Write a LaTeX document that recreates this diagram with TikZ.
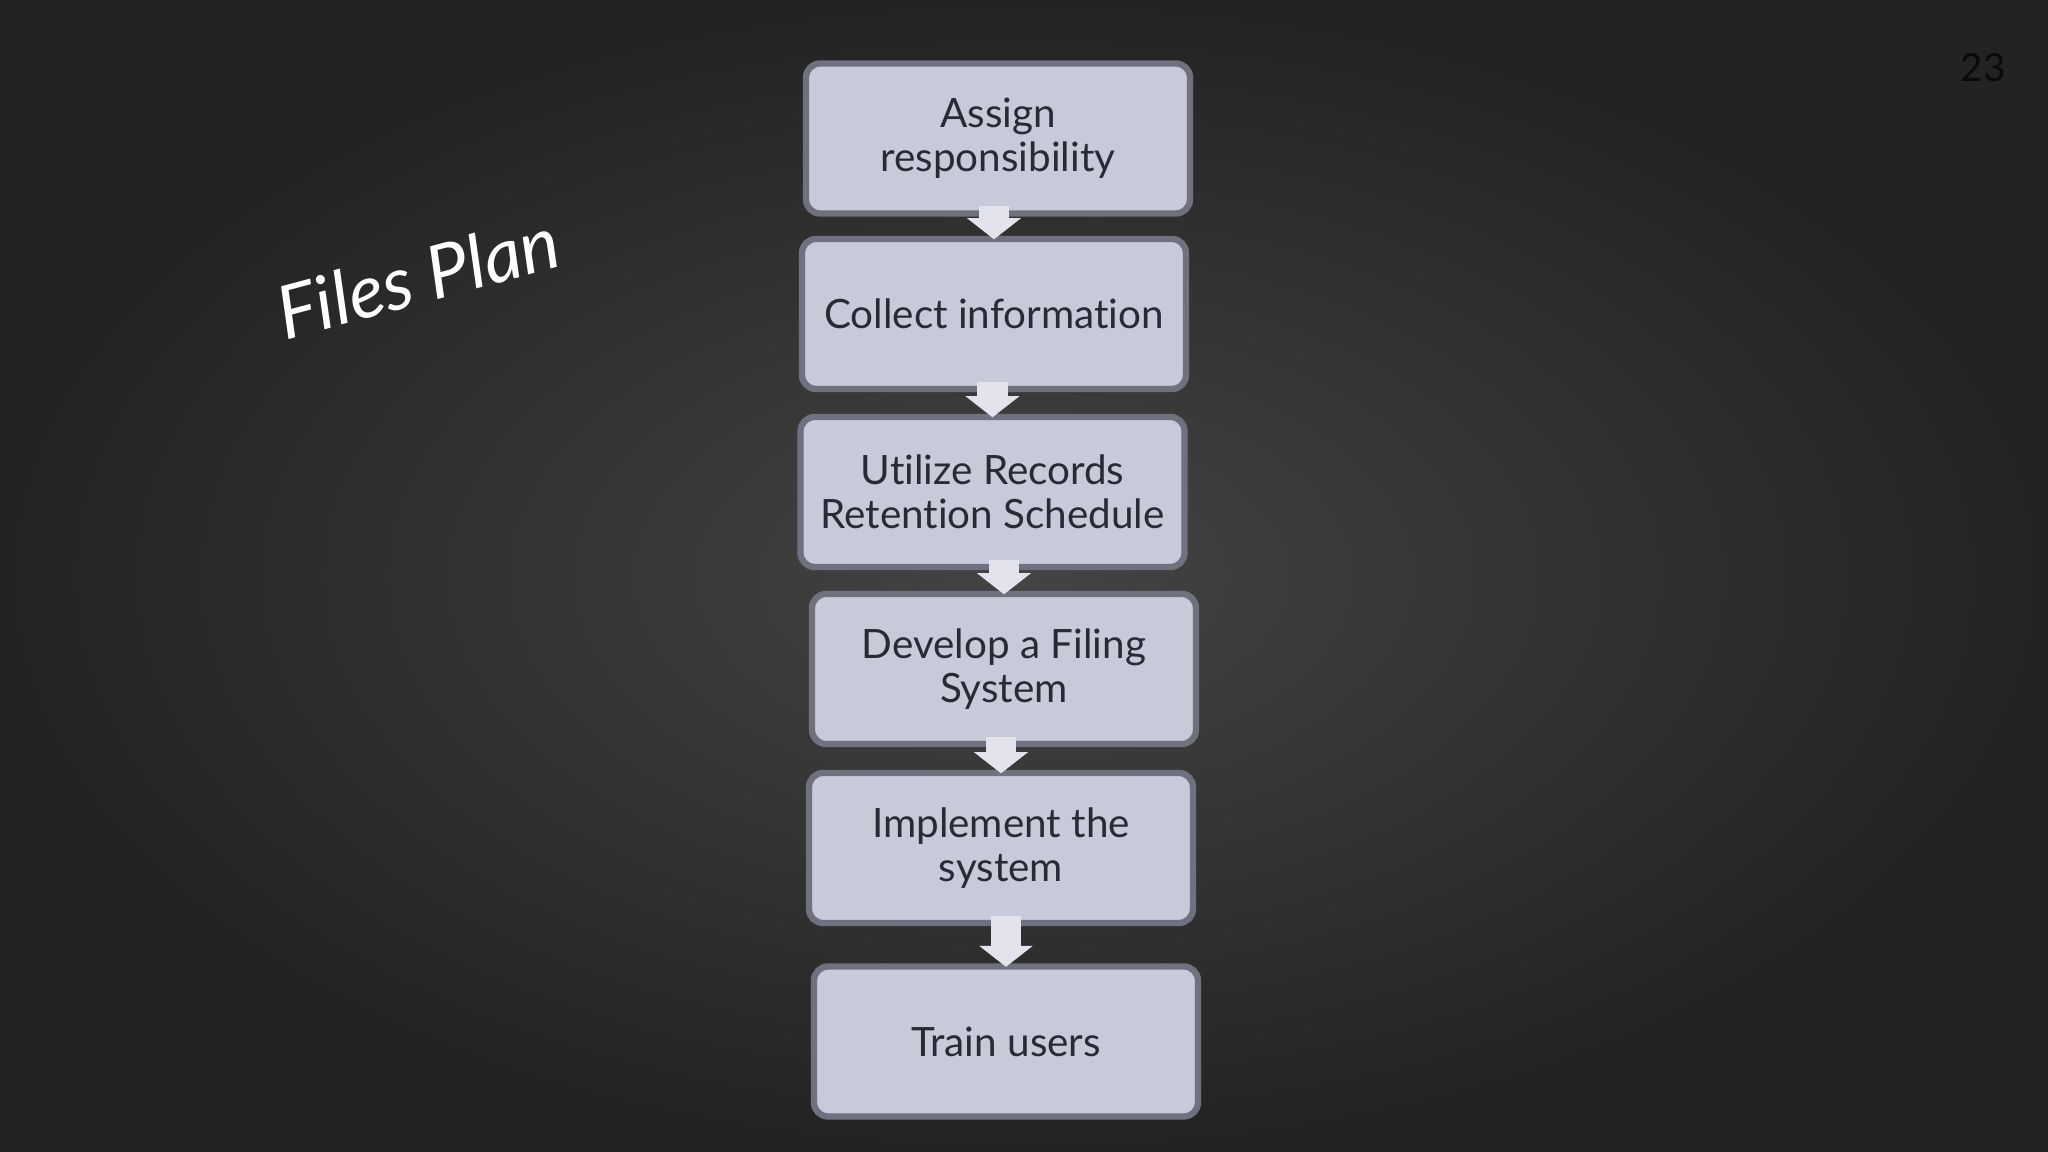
\documentclass[tikz,border=0pt]{standalone}
\usepackage{fontspec}
\setmainfont{Lato}[Ligatures=NoCommon]
\usetikzlibrary{arrows.meta}
\definecolor{boardbg}{HTML}{444444}
\definecolor{boardedge}{HTML}{232323}
\definecolor{boxfill}{HTML}{C9CAD9}
\definecolor{boxline}{HTML}{70717F}
\definecolor{arrowfill}{HTML}{E2E3EC}
\definecolor{boxtext}{HTML}{2A2A35}
\tikzset{
  stepbox/.style={draw=boxline, line width=1.8pt, fill=boxfill, rounded corners=4pt,
    minimum width=3.84cm, minimum height=1.5cm, align=center, text=boxtext,
    font=\fontsize{11.5}{12.5}\selectfont},
  flowarrow/.style={draw=arrowfill, line width=8.8pt,
    -{Triangle[width=15pt,length=6pt,fill=arrowfill]}}
}
\begin{document}
\begin{tikzpicture}
   % background
   \useasboundingbox (0,0) rectangle (20.48,11.52);
   \shade[inner color=boardbg, outer color=boardedge] (0,0) rectangle (20.48,11.52);
   \node (pagenum) [text=black!85!boardbg, font=\fontsize{11}{12}\selectfont] at (19.83,10.84) {23};

   % title
   \node (title) [rotate=15, text=white, font=\itshape\fontsize{21}{24}\selectfont] at (4.18,8.75) {Files Plan};

   % steps
   \node (a1) [stepbox] at (9.98,10.135) {Assign\\responsibility};
   \node (a2) [stepbox] at (9.94,8.38) {Collect information};
   \node (a3) [stepbox] at (9.925,6.60) {Utilize Records\\Retention Schedule};
   \node (a4) [stepbox] at (10.04,4.83) {Develop a Filing\\System};
   \node (a5) [stepbox] at (10.01,3.04) {Implement the\\system};
   \node (a6) [stepbox] at (10.06,1.105) {Train users};

   % arrows
   \foreach \i/\j in {1/2,2/3,3/4,4/5,5/6}
     \draw[flowarrow] ([yshift=3pt]a\j.north |- a\i.south) -- ([yshift=-1pt]a\j.north);
\end{tikzpicture}
\end{document}
